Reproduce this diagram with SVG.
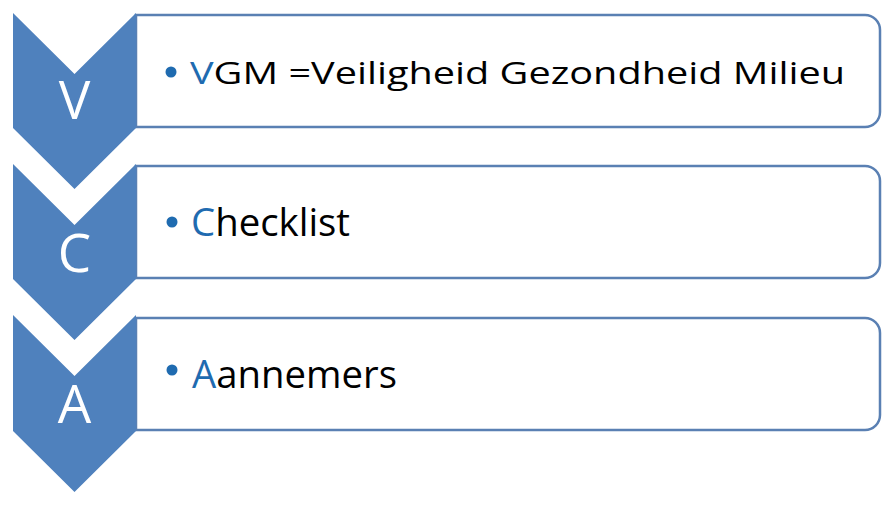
<svg xmlns="http://www.w3.org/2000/svg" width="895" height="510" viewBox="0 0 895 510">
<style>
.box{fill:#ffffff;stroke:#5a80b3;stroke-width:2.5}
.chev{fill:#4f81bd}
.letter{font-family:"Open Sans","Liberation Sans",sans-serif;font-size:53px;fill:#ffffff;text-anchor:middle}
.item{font-family:"Open Sans","Liberation Sans",sans-serif;fill:#000000}
.hl{fill:#1f6bb0}
.bullet{fill:#1f6bb0}
</style>
<rect width="895" height="510" fill="#ffffff"/>
<g id="connectors"></g>
<g id="node-v">
<path class="box" d="M136 15 H865 A15 15 0 0 1 880 30 V112 A15 15 0 0 1 865 127 H136 Z"/>
<polygon class="chev" points="13,13 74.5,74 136,13 136,128 74.5,189 13,128"/>
<text class="letter" x="74.5" y="119">V</text>
<circle class="bullet" cx="171" cy="72" r="5.5"/>
<text class="item" x="190" y="84" font-size="31" textLength="655" lengthAdjust="spacingAndGlyphs"><tspan class="hl">V</tspan>GM =Veiligheid Gezondheid Milieu</text>
</g>
<g id="node-c">
<path class="box" d="M136 166 H865 A15 15 0 0 1 880 181 V263 A15 15 0 0 1 865 278 H136 Z"/>
<polygon class="chev" points="13,164 74.5,225 136,164 136,279 74.5,340 13,279"/>
<text class="letter" x="74.5" y="272">C</text>
<circle class="bullet" cx="172" cy="222" r="5.5"/>
<text class="item" x="191" y="236" font-size="39" textLength="159" lengthAdjust="spacingAndGlyphs"><tspan class="hl">C</tspan>hecklist</text>
</g>
<g id="node-a">
<path class="box" d="M136 318 H865 A15 15 0 0 1 880 333 V415 A15 15 0 0 1 865 430 H136 Z"/>
<polygon class="chev" points="13,315 74.5,376 136,315 136,431 74.5,492 13,431"/>
<text class="letter" x="74.5" y="423">A</text>
<circle class="bullet" cx="172" cy="370" r="5.5"/>
<text class="item" x="192" y="388" font-size="39" textLength="205" lengthAdjust="spacingAndGlyphs"><tspan class="hl">A</tspan>annemers</text>
</g>
</svg>
